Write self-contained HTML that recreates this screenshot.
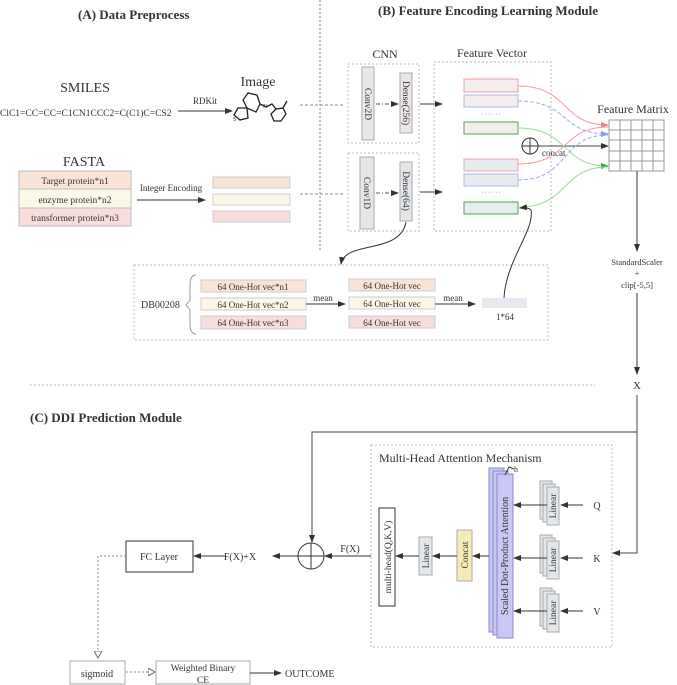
<!DOCTYPE html>
<html><head><meta charset="utf-8"><style>body{margin:0;background:#fff}svg{display:block}text{font-family:"Liberation Serif",serif;fill:#333}</style></head><body>
<svg width="677" height="685" viewBox="0 0 677 685" xmlns="http://www.w3.org/2000/svg">
<defs>
<marker id="a" markerWidth="8" markerHeight="6" refX="7" refY="3" orient="auto" markerUnits="userSpaceOnUse"><path d="M0,0L8,3L0,6z" fill="#333"/></marker>
<marker id="ar" markerWidth="8" markerHeight="6" refX="7" refY="3" orient="auto" markerUnits="userSpaceOnUse"><path d="M0,0L8,3L0,6z" fill="#f08080"/></marker>
<marker id="ab" markerWidth="8" markerHeight="6" refX="7" refY="3" orient="auto" markerUnits="userSpaceOnUse"><path d="M0,0L8,3L0,6z" fill="#8899ee"/></marker>
<marker id="ag" markerWidth="8" markerHeight="6" refX="7" refY="3" orient="auto" markerUnits="userSpaceOnUse"><path d="M0,0L8,3L0,6z" fill="#33aa33"/></marker>
<marker id="ao" markerWidth="8" markerHeight="8" refX="7" refY="4" orient="auto" markerUnits="userSpaceOnUse"><path d="M0,0L7,4L0,8z" fill="#fff" stroke="#666"/></marker>
</defs>
<line x1="320" y1="0" x2="320" y2="250" stroke="#888" stroke-dasharray="2,2"/>
<line x1="30" y1="385" x2="595" y2="385" stroke="#bbb" stroke-dasharray="2,2"/>
<text x="78" y="19" font-size="13" font-weight="bold">(A) Data Preprocess</text>
<text x="378" y="15" font-size="13" font-weight="bold">(B) Feature Encoding Learning Module</text>
<text x="30" y="422" font-size="13" font-weight="bold">(C) DDI Prediction Module</text>
<text x="85" y="92" font-size="14" text-anchor="middle">SMILES</text>
<text x="0" y="116" font-size="9.5">ClC1=CC=CC=C1CN1CCC2=C(C1)C=CS2</text>
<line x1="178" y1="111" x2="232" y2="111" stroke="#333" marker-end="url(#a)"/>
<text x="205" y="104" font-size="9" text-anchor="middle">RDKit</text>
<text x="258" y="86" font-size="14" text-anchor="middle">Image</text>
<g stroke="#222" stroke-width="1.3" fill="none"><path d="M247,108 L243,100 L248,93 L257,95 L260,104 L256,112 L247,108 M240,120 L234,115 L238,108 L247,108 L248,118 z M260,104 L266,107 L272,104 L276,109 L283,108 L286,114 L281,121 L274,121 L271,114 L276,109 M283,108 L287,101"/></g>
<text x="233" y="121" font-size="6" fill="#cc0">S</text>
<text x="263" y="108" font-size="6" fill="#33f">N</text>
<text x="84" y="166" font-size="14" text-anchor="middle">FASTA</text>
<rect x="19" y="171" width="112" height="18" fill="#f9e4d6" stroke="#bbb"/>
<rect x="19" y="189" width="112" height="19" fill="#fcf8e8" stroke="#bbb"/>
<rect x="19" y="208" width="112" height="18" fill="#f9dcdc" stroke="#bbb"/>
<text x="75" y="184" font-size="9.5" text-anchor="middle">Target protein*n1</text>
<text x="75" y="203" font-size="9.5" text-anchor="middle">enzyme protein*n2</text>
<text x="75" y="221" font-size="9.5" text-anchor="middle">transformer protein*n3</text>
<text x="171" y="191" font-size="9" text-anchor="middle">Integer Encoding</text>
<line x1="137" y1="200" x2="205" y2="200" stroke="#333" marker-end="url(#a)"/>
<rect x="213" y="177" width="77" height="11" fill="#f9e4d6" stroke="#ccc"/>
<rect x="213" y="194" width="77" height="11" fill="#fcf8e8" stroke="#ccc"/>
<rect x="213" y="211" width="77" height="11" fill="#f9dcdc" stroke="#ccc"/>
<line x1="300" y1="105" x2="345" y2="105" stroke="#888" stroke-dasharray="3,2"/>
<line x1="300" y1="194" x2="345" y2="194" stroke="#888" stroke-dasharray="3,2"/>
<text x="385" y="58" font-size="12" text-anchor="middle">CNN</text>
<rect x="348" y="64" width="71" height="79" fill="none" stroke="#bbb" stroke-dasharray="2,2"/>
<rect x="362" y="67" width="12" height="73" fill="#ece6e6" stroke="#aaa"/>
<rect x="400" y="73" width="12" height="60" fill="#ece6e6" stroke="#aaa"/>
<text transform="translate(365,104) rotate(90)" font-size="9.5" text-anchor="middle">Conv2D</text>
<text transform="translate(403,103) rotate(90)" font-size="9.5" text-anchor="middle">Dense(256)</text>
<line x1="376" y1="104" x2="398" y2="104" stroke="#555" stroke-dasharray="4,2,1,2" marker-end="url(#a)"/>
<rect x="348" y="153" width="71" height="78" fill="none" stroke="#bbb" stroke-dasharray="2,2"/>
<rect x="360" y="157" width="14" height="72" fill="#e4e7ea" stroke="#aaa"/>
<rect x="400" y="162" width="12" height="59" fill="#e4e7ea" stroke="#aaa"/>
<text transform="translate(364,193) rotate(90)" font-size="9.5" text-anchor="middle">Conv1D</text>
<text transform="translate(403,191) rotate(90)" font-size="9.5" text-anchor="middle">Dense(64)</text>
<line x1="376" y1="193" x2="398" y2="193" stroke="#555" stroke-dasharray="4,2,1,2" marker-end="url(#a)"/>
<line x1="420" y1="104" x2="442" y2="104" stroke="#333" marker-end="url(#a)"/>
<line x1="420" y1="192" x2="442" y2="192" stroke="#333" marker-end="url(#a)"/>
<text x="492" y="57" font-size="12" text-anchor="middle">Feature Vector</text>
<rect x="434" y="62" width="117" height="169" fill="none" stroke="#bbb" stroke-dasharray="2,2"/>
<rect x="464" y="79" width="54" height="13" fill="#f3eded" stroke="#f0a0a0"/>
<rect x="464" y="95" width="54" height="12" fill="#f3eded" stroke="#aab8ee"/>
<text x="491" y="116" font-size="6" text-anchor="middle">· · · · · ·</text>
<rect x="464" y="122" width="54" height="12" fill="#f3eded" stroke="#44aa44"/>
<rect x="464" y="159" width="54" height="12" fill="#e8ecef" stroke="#f0a0a0"/>
<rect x="464" y="174" width="54" height="12" fill="#e8ecef" stroke="#aab8ee"/>
<text x="491" y="194" font-size="6" text-anchor="middle">· · · · · ·</text>
<rect x="464" y="202" width="54" height="12" fill="#e8ecef" stroke="#44aa44"/>
<circle cx="530" cy="146" r="8" fill="none" stroke="#333"/>
<line x1="522" y1="146" x2="538" y2="146" stroke="#333"/><line x1="530" y1="138" x2="530" y2="154" stroke="#333"/>
<text x="542" y="156" font-size="9">concat</text>
<line x1="538" y1="146" x2="608" y2="146" stroke="#444" marker-end="url(#a)"/>
<path d="M518,86 C570,86 560,125 608,125" fill="none" stroke="#f4a0a0" marker-end="url(#ar)"/>
<path d="M518,101 C570,101 560,134 608,134" fill="none" stroke="#99aaee" stroke-dasharray="4,2" marker-end="url(#ab)"/>
<path d="M518,128 C570,128 560,166 608,166" fill="none" stroke="#99dd99" marker-end="url(#ag)"/>
<path d="M518,164 C570,164 560,127 608,127" fill="none" stroke="#f4a0a0"/>
<path d="M518,180 C570,180 560,135 608,135" fill="none" stroke="#99aaee" stroke-dasharray="4,2"/>
<path d="M518,207 C570,207 560,167 608,167" fill="none" stroke="#99dd99"/>
<text x="633" y="113" font-size="12" text-anchor="middle">Feature Matrix</text>
<g stroke="#999" fill="none"><rect x="609" y="120" width="55" height="51"/>
<line x1="620" y1="120" x2="620" y2="171"/><line x1="631" y1="120" x2="631" y2="171"/><line x1="642" y1="120" x2="642" y2="171"/><line x1="653" y1="120" x2="653" y2="171"/>
<line x1="609" y1="130" x2="664" y2="130"/><line x1="609" y1="140" x2="664" y2="140"/><line x1="609" y1="151" x2="664" y2="151"/><line x1="609" y1="161" x2="664" y2="161"/></g>
<line x1="637" y1="171" x2="637" y2="251" stroke="#333" marker-end="url(#a)"/>
<text x="637" y="265" font-size="8.5" text-anchor="middle">StandardScaler</text>
<text x="637" y="276" font-size="8.5" text-anchor="middle" fill="#888">+</text>
<text x="637" y="288" font-size="8.5" text-anchor="middle">clip[-5,5]</text>
<line x1="637" y1="293" x2="637" y2="374" stroke="#333" marker-end="url(#a)"/>
<text x="637" y="389" font-size="11" text-anchor="middle">X</text>
<rect x="134" y="265" width="414" height="75" fill="none" stroke="#bbb" stroke-dasharray="2,2"/>
<text x="141" y="308" font-size="10">DB00208</text>
<path d="M196,275 Q190,275 190,285 L190,300 L186,305 L190,310 L190,324 Q190,334 196,334" fill="none" stroke="#999"/>
<rect x="201" y="280" width="105" height="12" fill="#f9e4d6" stroke="#ccc"/>
<rect x="201" y="298" width="105" height="12" fill="#fcf8e8" stroke="#ccc"/>
<rect x="201" y="316" width="105" height="13" fill="#f9dcdc" stroke="#ccc"/>
<text x="253" y="290" font-size="9" text-anchor="middle">64 One-Hot vec*n1</text>
<text x="253" y="308" font-size="9" text-anchor="middle">64 One-Hot vec*n2</text>
<text x="253" y="326" font-size="9" text-anchor="middle">64 One-Hot vec*n3</text>
<line x1="306" y1="304" x2="345" y2="304" stroke="#333" marker-end="url(#a)"/>
<text x="323" y="301" font-size="9" text-anchor="middle">mean</text>
<rect x="349" y="279" width="86" height="12" fill="#f9e4d6" stroke="#ccc"/>
<rect x="349" y="297" width="86" height="12" fill="#fcf8e8" stroke="#ccc"/>
<rect x="349" y="316" width="86" height="12" fill="#f9dcdc" stroke="#ccc"/>
<text x="392" y="289" font-size="9" text-anchor="middle">64 One-Hot vec</text>
<text x="392" y="307" font-size="9" text-anchor="middle">64 One-Hot vec</text>
<text x="392" y="326" font-size="9" text-anchor="middle">64 One-Hot vec</text>
<line x1="435" y1="304" x2="475" y2="304" stroke="#333" marker-end="url(#a)"/>
<text x="453" y="301" font-size="9" text-anchor="middle">mean</text>
<rect x="482" y="298" width="45" height="10" fill="#e6e9ed"/>
<text x="505" y="320" font-size="9" text-anchor="middle">1*64</text>
<path d="M406,222 C400,255 345,240 341,264" fill="none" stroke="#333" marker-end="url(#a)"/>
<path d="M504,298 C506,260 535,230 531,210 Q528,207 520,208" fill="none" stroke="#333" marker-end="url(#a)"/>
<polyline points="637,395 637,553 613,553" fill="none" stroke="#444" marker-end="url(#a)"/>
<polyline points="637,432 312,432 312,542" fill="none" stroke="#444" marker-end="url(#a)"/>
<rect x="371" y="445" width="241" height="202" fill="none" stroke="#bbb" stroke-dasharray="2,2"/>
<text x="379" y="462" font-size="12">Multi-Head Attention Mechanism</text>
<rect x="489" y="468" width="15" height="164" fill="#c8c8f2" stroke="#8888cc"/>
<rect x="493" y="471" width="15" height="164" fill="#c8c8f2" stroke="#8888cc"/>
<rect x="497" y="474" width="16" height="164" fill="#c8c8f2" stroke="#8888cc"/>
<text transform="translate(508,556) rotate(-90)" font-size="10" text-anchor="middle">Scaled Dot-Product Attention</text>
<path d="M505,475 L509,467 L514,469" fill="none" stroke="#333"/><text x="514" y="472" font-size="8">h</text>
<g fill="#e4e7ea" stroke="#aaa">
<rect x="540" y="481" width="12" height="38"/><rect x="543" y="484" width="12" height="38"/><rect x="547" y="487" width="12" height="38"/>
<rect x="540" y="535" width="12" height="38"/><rect x="543" y="538" width="12" height="38"/><rect x="547" y="541" width="12" height="38"/>
<rect x="540" y="588" width="12" height="38"/><rect x="543" y="591" width="12" height="38"/><rect x="547" y="594" width="12" height="38"/>
</g>
<text transform="translate(556,506) rotate(-90)" font-size="9.5" text-anchor="middle">Linear</text>
<text transform="translate(556,560) rotate(-90)" font-size="9.5" text-anchor="middle">Linear</text>
<text transform="translate(556,613) rotate(-90)" font-size="9.5" text-anchor="middle">Linear</text>
<line x1="583" y1="505" x2="561" y2="505" stroke="#333" marker-end="url(#a)"/>
<line x1="583" y1="558" x2="561" y2="558" stroke="#333" marker-end="url(#a)"/>
<line x1="583" y1="611" x2="561" y2="611" stroke="#333" marker-end="url(#a)"/>
<line x1="547" y1="505" x2="514" y2="505" stroke="#333" marker-end="url(#a)"/>
<line x1="547" y1="558" x2="514" y2="558" stroke="#333" marker-end="url(#a)"/>
<line x1="547" y1="611" x2="514" y2="611" stroke="#333" marker-end="url(#a)"/>
<text x="597" y="509" font-size="10" text-anchor="middle">Q</text>
<text x="597" y="562" font-size="10" text-anchor="middle">K</text>
<text x="597" y="615" font-size="10" text-anchor="middle">V</text>
<rect x="457" y="530" width="15" height="51" fill="#f5ebb8" stroke="#aaa"/>
<text transform="translate(468,555) rotate(-90)" font-size="9.5" text-anchor="middle">Concat</text>
<line x1="489" y1="556" x2="473" y2="556" stroke="#333" marker-end="url(#a)"/>
<rect x="419" y="537" width="13" height="38" fill="#e4e7ea" stroke="#aaa"/>
<text transform="translate(429,556) rotate(-90)" font-size="9.5" text-anchor="middle">Linear</text>
<line x1="457" y1="556" x2="433" y2="556" stroke="#333" marker-end="url(#a)"/>
<rect x="379" y="508" width="16" height="98" fill="#fff" stroke="#333"/>
<text transform="translate(391,557) rotate(-90)" font-size="9.5" text-anchor="middle">multi-head(Q,K,V)</text>
<line x1="419" y1="556" x2="396" y2="556" stroke="#333" marker-end="url(#a)"/>
<line x1="371" y1="556" x2="325" y2="556" stroke="#333" marker-end="url(#a)"/>
<text x="350" y="552" font-size="10" text-anchor="middle">F(X)</text>
<circle cx="311" cy="556" r="13" fill="none" stroke="#333"/>
<line x1="298" y1="556" x2="324" y2="556" stroke="#333"/><line x1="311" y1="543" x2="311" y2="569" stroke="#333"/>
<line x1="298" y1="556" x2="273" y2="556" stroke="#333" marker-end="url(#a)"/>
<text x="240" y="560" font-size="10" text-anchor="middle">F(X)+X</text>
<line x1="226" y1="556" x2="194" y2="556" stroke="#333" marker-end="url(#a)"/>
<rect x="126" y="541" width="67" height="31" fill="#fff" stroke="#333"/>
<text x="159" y="560" font-size="10" text-anchor="middle">FC Layer</text>
<polyline points="126,556 98,556 98,658" fill="none" stroke="#888" stroke-dasharray="2,2" marker-end="url(#ao)"/>
<rect x="70" y="661" width="55" height="23" fill="#fff" stroke="#aaa"/>
<text x="97" y="677" font-size="10" text-anchor="middle">sigmoid</text>
<line x1="126" y1="672" x2="155" y2="672" stroke="#888" stroke-dasharray="2,2" marker-end="url(#ao)"/>
<rect x="156" y="661" width="94" height="23" fill="#fff" stroke="#aaa"/>
<text x="203" y="671" font-size="9.5" text-anchor="middle">Weighted Binary</text>
<text x="203" y="683" font-size="9.5" text-anchor="middle">CE</text>
<line x1="250" y1="673" x2="281" y2="673" stroke="#333" marker-end="url(#a)"/>
<text x="285" y="677" font-size="10">OUTCOME</text>
</svg>
</body></html>
